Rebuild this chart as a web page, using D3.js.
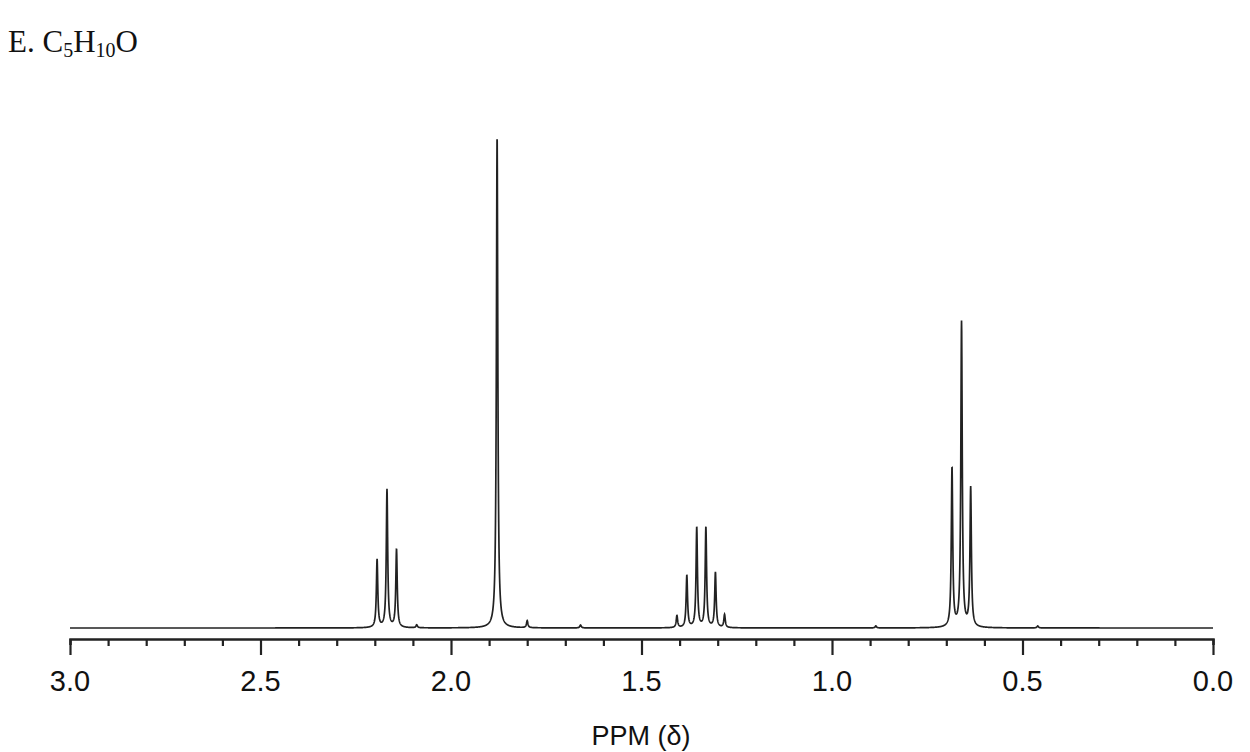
<!DOCTYPE html>
<html><head><meta charset="utf-8">
<script src="https://cdn.jsdelivr.net/npm/d3@7"></script>
<style>body{margin:0;background:#fff}</style>
</head><body>
<svg id="chart" width="1250" height="752"></svg>
<script>
// peak list (ppm, height above baseline in px-units)
var peakPpm = [2.194, 2.168, 2.143, 2.09, 1.879, 1.80, 1.66, 1.407, 1.381, 1.355, 1.331, 1.306, 1.282, 0.885, 0.685, 0.660, 0.636, 0.46];
var peakHeight = [68, 138, 78, 3, 492, 7, 3, 12, 52, 100, 100, 55, 13, 2, 159, 305, 139, 2];
var majorTicks = [3.0, 2.5, 2.0, 1.5, 1.0, 0.5, 0.0];
var hw = 0.0022; // lorentzian half width, ppm

var svg = d3.select('#chart');
var x = d3.scaleLinear().domain([3.0, 0.0]).range([70, 1213]);
var y = d3.scaleLinear().domain([0, 488]).range([628, 140]);

// build the trace from the peak list
var pts = [];
for (var p = 3.0; p >= -0.0001; p -= 0.0004) {
    var s = 0;
    for (var i = 0; i < peakPpm.length; i++) {
        var d = (p - peakPpm[i]) / hw;
        s += peakHeight[i] / (1 + d * d);
    }
    pts.push([p, s]);
}
svg.append('path')
    .datum(pts)
    .attr('d', d3.line().x(function (d) { return x(d[0]); }).y(function (d) { return y(d[1]); }))
    .attr('fill', 'none').attr('stroke', '#222').attr('stroke-width', 1.7);

// axis
var ax = svg.append('g').attr('transform', 'translate(0,639)');
ax.call(d3.axisBottom(x).tickValues(d3.range(0, 31).map(function (k) { return k / 10; }))
    .tickSize(6).tickFormat(''));
ax.select('.domain').attr('stroke', '#222').attr('stroke-width', 2.5);
ax.selectAll('.tick line').attr('stroke', '#222').attr('stroke-width', 2.2)
    .attr('y2', function (d) { return Math.abs(d * 2 - Math.round(d * 2)) < 1e-6 ? 16 : 7; });

svg.selectAll('.tlab').data(majorTicks).enter().append('text')
    .attr('x', function (d) { return x(d); }).attr('y', 691)
    .attr('text-anchor', 'middle').attr('font-family', 'Liberation Sans, Arial, sans-serif')
    .attr('font-size', 29).attr('fill', '#111')
    .text(function (d) { return d.toFixed(1); });

svg.append('text').attr('x', 641).attr('y', 745).attr('text-anchor', 'middle')
    .attr('font-family', 'Liberation Sans, Arial, sans-serif').attr('font-size', 27).attr('fill', '#111')
    .text('PPM (δ)');

var t = svg.append('text').attr('x', 8).attr('y', 52)
    .attr('font-family', 'Liberation Serif, Times New Roman, serif').attr('font-size', 31).attr('fill', '#111');
t.append('tspan').text('E. C');
t.append('tspan').attr('font-size', 20).attr('dy', 5).text('5');
t.append('tspan').attr('dy', -5).text('H');
t.append('tspan').attr('font-size', 20).attr('dy', 5).text('10');
t.append('tspan').attr('dy', -5).text('O');
</script>
</body></html>
